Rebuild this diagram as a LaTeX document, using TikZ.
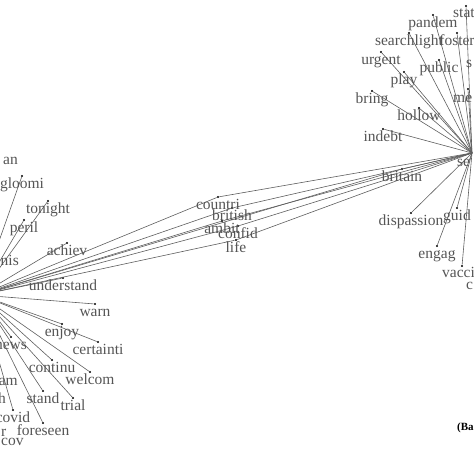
\documentclass[tikz,border=0pt]{standalone}
\usepackage{fontspec}
\setmainfont{Liberation Serif}
\definecolor{wordgray}{HTML}{555555}
\definecolor{linkgray}{HTML}{5E5E5E}

\begin{document}
\begin{tikzpicture}[x=1pt,y=-1pt,
		every node/.style={font=\fontsize{15.5}{18}\selectfont, text=wordgray},
		wdot/.style={circle,fill=black,inner sep=0pt,minimum size=2.4pt},
		wlab/.style={anchor=base,inner sep=0pt},
		wcut/.style={anchor=base west,inner sep=0pt},
		link/.style={draw=linkgray,line width=0.6pt} ]
		\useasboundingbox (0,0) rectangle (474,474);
		
		% hubs
		\coordinate (lhub) at (-20,295);
		\coordinate (rhub) at (472,153);
		
		% left words
		\node[wdot] (gloomi) at (22,176) {};
		\node[wdot] (tonight) at (48,201) {};
		\node[wdot] (peril) at (24,220) {};
		\node[wdot] (achiev) at (67,243) {};
		\node[wdot] (understand) at (63,278) {};
		\node[wdot] (warn) at (95,304) {};
		\node[wdot] (enjoy) at (62,324) {};
		\node[wdot] (certainti) at (98,342) {};
		\node[wdot] (news) at (11,337) {};
		\node[wdot] (continu) at (52,360) {};
		\node[wdot] (welcom) at (90,372) {};
		\node[wdot] (stand) at (43,391) {};
		\node[wdot] (trial) at (73,398) {};
		\node[wdot] (covid) at (13,410) {};
		\node[wdot] (foreseen) at (43,423) {};
		
		% shared words
		\node[wdot] (countri) at (218,197) {};
		\node[wdot] (british) at (232,208) {};
		\node[wdot] (ambit) at (222,221) {};
		\node[wdot] (confid) at (238,226) {};
		\node[wdot] (life) at (236,240) {};
		\node[wdot] (britain) at (402,169) {};
		
		% right words
		\node[wdot] (stat) at (466,6) {};
		\node[wdot] (pandem) at (433,15) {};
		\node[wdot] (foster) at (457,33) {};
		\node[wdot] (searchlight) at (409,33) {};
		\node[wdot] (urgent) at (381,52) {};
		\node[wdot] (public) at (439,60) {};
		\node[wdot] (play) at (404,72) {};
		\node[wdot] (bring) at (372,91) {};
		\node[wdot] (me) at (468,89) {};
		\node[wdot] (hollow) at (419,108) {};
		\node[wdot] (indebt) at (383,129) {};
		\node[wdot] (dispassion) at (411,213) {};
		\node[wdot] (guid) at (457,208) {};
		\node[wdot] (engag) at (437,246) {};
		\node[wdot] (vacci) at (462,266) {};
		
		% links to the left hub
		\draw[link] (gloomi) -- (lhub);
		\draw[link] (tonight) -- (lhub);
		\draw[link] (peril) -- (lhub);
		\draw[link] (achiev) -- (lhub);
		\draw[link] (understand) -- (lhub);
		\draw[link] (warn) -- (lhub);
		\draw[link] (enjoy) -- (lhub);
		\draw[link] (certainti) -- (lhub);
		\draw[link] (news) -- (lhub);
		\draw[link] (continu) -- (lhub);
		\draw[link] (welcom) -- (lhub);
		\draw[link] (stand) -- (lhub);
		\draw[link] (trial) -- (lhub);
		\draw[link] (covid) -- (lhub);
		\draw[link] (foreseen) -- (lhub);
		
		% links across
		\draw[link] (lhub) -- (countri) -- (rhub);
		\draw[link] (lhub) -- (british) -- (rhub);
		\draw[link] (lhub) -- (ambit) -- (rhub);
		\draw[link] (lhub) -- (confid) -- (rhub);
		\draw[link] (lhub) -- (life) -- (rhub);
		\draw[link] (lhub) -- (britain) -- (rhub);
		
		% links to the right hub
		\draw[link] (stat) -- (rhub);
		\draw[link] (pandem) -- (rhub);
		\draw[link] (foster) -- (rhub);
		\draw[link] (searchlight) -- (rhub);
		\draw[link] (urgent) -- (rhub);
		\draw[link] (public) -- (rhub);
		\draw[link] (play) -- (rhub);
		\draw[link] (bring) -- (rhub);
		\draw[link] (me) -- (rhub);
		\draw[link] (hollow) -- (rhub);
		\draw[link] (indebt) -- (rhub);
		\draw[link] (dispassion) -- (rhub);
		\draw[link] (guid) -- (rhub);
		\draw[link] (engag) -- (rhub);
		\draw[link] (vacci) -- (rhub);
		
		% labels
		\node[wlab] (gloomi-t) at ([yshift=-12pt]gloomi.center) {gloomi};
		\node[wlab] (tonight-t) at ([yshift=-12pt]tonight.center) {tonight};
		\node[wlab] (peril-t) at ([yshift=-12pt]peril.center) {peril};
		\node[wlab] (achiev-t) at ([yshift=-12pt]achiev.center) {achiev};
		\node[wlab] (understand-t) at ([yshift=-12pt]understand.center) {understand};
		\node[wlab] (warn-t) at ([yshift=-12pt]warn.center) {warn};
		\node[wlab] (enjoy-t) at ([yshift=-12pt]enjoy.center) {enjoy};
		\node[wlab] (certainti-t) at ([yshift=-12pt]certainti.center) {certainti};
		\node[wlab] (news-t) at ([yshift=-12pt]news.center) {news};
		\node[wlab] (continu-t) at ([yshift=-12pt]continu.center) {continu};
		\node[wlab] (welcom-t) at ([yshift=-12pt]welcom.center) {welcom};
		\node[wlab] (stand-t) at ([yshift=-12pt]stand.center) {stand};
		\node[wlab] (trial-t) at ([yshift=-12pt]trial.center) {trial};
		\node[wlab] (covid-t) at ([yshift=-12pt]covid.center) {covid};
		\node[wlab] (foreseen-t) at ([yshift=-12pt]foreseen.center) {foreseen};
		\node[wlab] (countri-t) at ([yshift=-12pt]countri.center) {countri};
		\node[wlab] (british-t) at ([yshift=-12pt]british.center) {british};
		\node[wlab] (ambit-t) at ([yshift=-12pt]ambit.center) {ambit};
		\node[wlab] (confid-t) at ([yshift=-12pt]confid.center) {confid};
		\node[wlab] (life-t) at ([yshift=-12pt]life.center) {life};
		\node[wlab] (britain-t) at ([yshift=-12pt]britain.center) {britain};
		\node[wlab] (pandem-t) at ([yshift=-12pt]pandem.center) {pandem};
		\node[wlab] (foster-t) at ([yshift=-12pt]foster.center) {foster};
		\node[wlab] (searchlight-t) at ([yshift=-12pt]searchlight.center) {searchlight};
		\node[wlab] (urgent-t) at ([yshift=-12pt]urgent.center) {urgent};
		\node[wlab] (public-t) at ([yshift=-12pt]public.center) {public};
		\node[wlab] (play-t) at ([yshift=-12pt]play.center) {play};
		\node[wlab] (bring-t) at ([yshift=-12pt]bring.center) {bring};
		\node[wlab] (hollow-t) at ([yshift=-12pt]hollow.center) {hollow};
		\node[wlab] (indebt-t) at ([yshift=-12pt]indebt.center) {indebt};
		\node[wlab] (dispassion-t) at ([yshift=-12pt]dispassion.center) {dispassion};
		\node[wlab] (guid-t) at ([yshift=-12pt]guid.center) {guid};
		\node[wlab] (engag-t) at ([yshift=-12pt]engag.center) {engag};
		
		% labels cut by the frame
		\node[wcut] (an-t) at (3,164) {an};
		\node[wcut,anchor=base east] (nis-t) at (19,265) {nis};
		\node[wcut,anchor=base east] (am-t) at (18,385) {am};
		\node[wcut] (h-t) at (-2,403) {h};
		\node[wcut] (r-t) at (1,436) {r};
		\node[wcut] (cov-t) at (1,445) {cov};
		\node[wcut] (stat-t) at (453,17) {stat};
		\node[wcut] (s-t) at (466,67) {s};
		\node[wcut] (me-t) at (453,102) {me};
		\node[wcut] (se-t) at (457,166) {se};
		\node[wcut] (vacci-t) at (442,277) {vacci};
		\node[wcut] (c-t) at (466,289) {c};
		\node[wcut,text=black,font=\fontsize{11}{13}\selectfont\bfseries] (ba-t) at (457,430) {(Ba};
		
\end{tikzpicture}
\end{document}
